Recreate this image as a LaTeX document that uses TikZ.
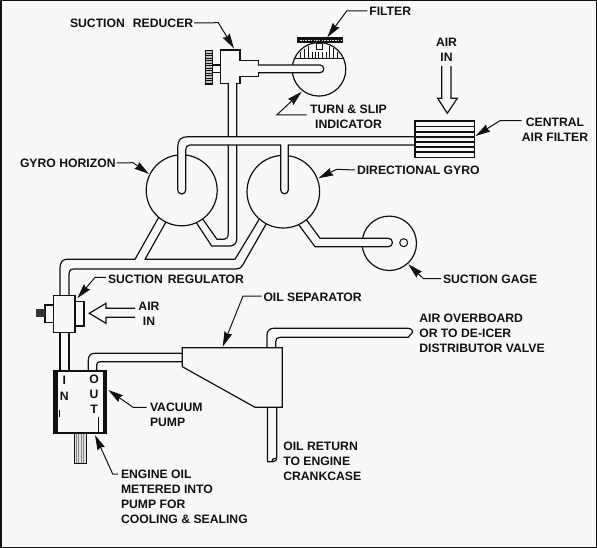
\documentclass[tikz,border=0pt]{standalone}
\usepackage{fontspec}
\setmainfont{Liberation Sans}
\usetikzlibrary{arrows.meta}
\definecolor{paper}{HTML}{F8F8F8}
\definecolor{ink}{HTML}{111111}
\tikzset{
  lbl/.style={inner sep=0pt,outer sep=0pt,text=ink,align=left,anchor=west,font=\fontsize{12.2}{15}\selectfont\bfseries},
  lblc/.style={lbl,align=center,anchor=center},
  tube/.style={draw=ink,fill=paper,line width=1.2pt,line join=round},
  wire/.style={draw=ink,line width=1.2pt,line join=round},
  dev/.style={draw=ink,fill=paper,line width=1.2pt,line join=miter},
  dial/.style={circle,draw=ink,fill=paper,line width=1.2pt,inner sep=0pt,outer sep=0pt},
  leader/.style={draw=ink,line width=1pt,-{Stealth[length=15pt,width=8pt,inset=1.5pt]}},
  hollow/.style={draw=ink,fill=paper,line width=1.2pt,line join=miter},
}
\begin{document}
\begin{tikzpicture}[x=1pt,y=-1pt]
\useasboundingbox (0,0) rectangle (597,548);
\fill[paper] (0,0) rectangle (597,548);
\fill[ink] (0,0) rectangle (597,1.5);
\fill[ink] (0,546.8) rectangle (597,548);
\fill[ink] (0,0) rectangle (1.5,548);
\fill[ink] (596,0) rectangle (597,548);

% tubes that end beneath devices
\path[tube] (228.3,80) -- (228.3,233) .. controls (228.3,238) and (226,239.3) .. (224,239.3) -- (217,239.3) -- (197,211)
  -- (190,213) -- (211.7,246) -- (230,246) .. controls (234,246) and (236.7,243) .. (236.7,239) -- (236.7,80);
\path[tube] (60,300) -- (60,268) .. controls (60,262) and (63,259.3) .. (67,259.3) -- (135,259.3) -- (164,208)
  -- (171,213) -- (145,259.3) -- (235,259.3) -- (266,208) -- (273,212) -- (243,264.5)
  .. controls (241,268) and (239,269) .. (236,269) -- (74,269) .. controls (70,269) and (69,271) .. (69,274) -- (69,300);
\node[dial,minimum size=54.4pt] (gage) at (389.3,243.3) {};
\path[tube] (300,211) -- (320,238.3) -- (388.3,238.3) arc[start angle=-90,end angle=90,radius=4.2] -- (315,246.7) -- (293,217);
\node[dial,minimum size=8pt,line width=1pt] (gagehole) at (403.7,242.7) {};
\node[dial,minimum size=71pt] (horizon) at (181.7,190.3) {};
\node[dial,minimum size=72.6pt] (dgyro) at (283.3,191.7) {};
\path[tube] (415,136.7) -- (188,136.7) .. controls (181,136.7) and (177.7,140) .. (177.7,147) -- (177.7,190)
  arc[start angle=180,end angle=0,radius=4] -- (185.7,150) .. controls (185.7,147) and (187,145) .. (190,145)
  -- (280.7,145) -- (280.7,190) arc[start angle=180,end angle=0,radius=3.8] -- (288.3,145) -- (415,145);
\path[tube] (88.3,372) -- (88.3,360) .. controls (88.3,355.5) and (91,353.3) .. (95,353.3) -- (184,353.3)
  -- (184,361.7) -- (100,361.7) .. controls (98,361.7) and (96.7,363) .. (96.7,365) -- (96.7,372);
\path[tube] (267,349) -- (267,335) .. controls (267,331) and (270,328.3) .. (273.3,328.3) -- (408.3,328.3)
  .. controls (411,328.3) and (413,330) .. (412.7,332) .. controls (412.5,334) and (410.5,333.5) .. (410,335) .. controls (409.8,336) and (409,337) .. (408.3,337.3)
  -- (280,337.3) .. controls (277,337.3) and (275.7,339) .. (275.7,341.7) -- (275.7,349);
\path[tube] (267.5,405) -- (267.5,461.7) -- (273,461.7) .. controls (276,461.7) and (276.7,460) .. (276.7,457) -- (276.7,405);
\path[wire] (273,461.7) .. controls (271,460) and (273,458) .. (276.7,458.5);
\path[wire] (60,330) -- (60,372) (69,330) -- (69,372);

% suction reducer
\path[dev] (212.7,65) rectangle (222,72.7);
\path[dev] (220.7,50) -- (240,50) -- (240,60.7) -- (258.7,60.7) -- (258.7,76.7) -- (240,76.7) -- (240,83.3) -- (220.7,83.3) -- cycle;
\fill[paper] (229,82) rectangle (236,85);
\path[dev,fill=gray!45] (205.7,50.5) rectangle (212.3,84.5);
\foreach \yy in {53,55.5,...,83} \draw[ink,line width=0.6pt] (205.7,\yy) -- (212.3,\yy);

% turn and slip indicator
\node[dial,minimum size=53.6pt] (turn) at (319,69.3) {};
\path[tube] (257.8,65) -- (320,65) arc[start angle=-90,end angle=90,radius=3.85] -- (257.8,72.7);
\draw[wire] (294.7,58.5) -- (343,58.5);
\foreach \xx/\yt in {300/52,304/49,308/46,312/52,315/52,318.5/52,322/52,326/52,329.5/46,333/48,337/52}
  \draw[ink,line width=0.9pt] (\xx,\yt) -- (\xx,58.5);
\path[dev,line width=1pt] (316.2,43.3) rectangle (322.8,49.3);
\node[inner sep=0pt,outer sep=0pt,fill=ink,minimum width=46.6pt,minimum height=6pt] (filterbar) at (320,40.3) {};
\draw[white!85!ink,line width=1.6pt,dash pattern=on 1.5pt off 1.2pt] (300,40.5) -- (341,40.5);

% central air filter
\path[dev] (415,121) rectangle (474.7,157.3);
\foreach \yy in {126.5,132,137,142,147,152} \draw[ink,line width=1.2pt] (415,\yy) -- (474.7,\yy);

% suction regulator
\path[dev] (75,301.7) rectangle (84,326);
\path[dev] (45,305) rectangle (53.3,322.3);
\fill[ink!85] (36,309.3) rectangle (45,317.3);
\path[dev] (53.3,295.7) rectangle (75,332.7);

% oil separator
\path[dev] (182.3,347.7) -- (282.3,347.7) -- (282.3,407.3) -- (255,407.3) -- (182.3,366.7) -- cycle;

% vacuum pump
\fill[gray!25] (74.3,433) rectangle (86,464);
\foreach \xx in {76,78.5,81,83.5} \draw[gray!90,line width=0.8pt] (\xx,433) -- (\xx,464);
\draw[ink,line width=0.8pt] (74.3,433) -- (74.3,463.6) -- (86,463.6) -- (86,433);
\path[dev,line width=1.6pt] (53.5,370.8) rectangle (106.5,432.7);
\fill[ink] (52.7,370) rectangle (57.5,433.5);
\fill[ink] (102.7,370) rectangle (107.3,433.5);
\draw[ink,line width=1pt] (59.3,410) -- (59.3,416.5);
\draw[ink,line width=1pt] (98,416.7) -- (98,431.7);
\node[lblc] (pin) at (64.2,380.7) {I};
\node[lblc] (pn) at (64.3,396.7) {N};
\node[lblc] (po) at (94,379.6) {O};
\node[lblc] (pu) at (94,394.3) {U};
\node[lblc] (pt) at (94,409) {T};

% hollow arrows
\path[hollow] (441.7,66) -- (441.7,98.3) -- (437.7,98.3) -- (447.3,113.3) -- (457.3,98.3) -- (451,98.3) -- (451,66);
\path[hollow] (135,308.3) -- (106,308.3) -- (106,303.3) -- (89.3,313.3) -- (106,323.3) -- (106,317.3) -- (135,317.3);

% labels
\node[lbl] (lreducer) at (70,23) {SUCTION\hspace{8pt}REDUCER};
\node[lbl] (lfilter) at (369.3,11) {FILTER};
\node[lblc] (lturn) at (348.5,117) {TURN \& SLIP\\INDICATOR};
\node[lblc] (lair1) at (446.5,50) {AIR\\IN};
\node[lblc] (lcaf) at (555,130) {CENTRAL\\AIR FILTER};
\node[lbl] (lhorizon) at (20,163) {GYRO HORIZON};
\node[lbl] (ldgyro) at (357,170) {DIRECTIONAL GYRO};
\node[lbl] (lgage) at (443,279.5) {SUCTION GAGE};
\node[lbl] (lreg) at (108,279) {SUCTION\hspace{5pt}REGULATOR};
\node[lblc] (lair2) at (149,313.5) {AIR\\IN};
\node[lbl] (lsep) at (263.5,297) {OIL SEPARATOR};
\node[lbl] (lover) at (419.3,333.3) {AIR OVERBOARD\\OR TO DE-ICER\\DISTRIBUTOR VALVE};
\node[lbl] (lvac) at (150,414.5) {VACUUM\\PUMP};
\node[lbl] (lret) at (283.3,461.7) {OIL RETURN\\TO ENGINE\\CRANKCASE};
\node[lbl] (leng) at (121,496.5) {ENGINE OIL\\METERED INTO\\PUMP FOR\\COOLING \& SEALING};

% leaders
\coordinate (tfilter) at (327.3,37.3);
\coordinate (treducer) at (234,48.5);
\coordinate (tturn) at (301.7,91.7);
\coordinate (tcaf) at (475.5,136);
\coordinate (thorizon) at (149,174);
\coordinate (tdgyro) at (318.3,178.3);
\coordinate (tgage) at (408.3,264.3);
\coordinate (treg) at (77.3,298.3);
\coordinate (tsep) at (222.7,346.7);
\coordinate (tvac) at (108.3,390);
\coordinate (teng) at (95,435);
\draw[leader] (lreducer.east) ++(1,0) -- (218.3,22.7) -- (treducer);
\draw[leader] (lfilter.west) ++(-2,0) -- (346.7,11) -- (tfilter);
\draw[leader] (306.7,115) -- (276.7,115) -- (tturn);
\draw[leader] (521.7,120.7) -- (500,120.7) -- (tcaf);
\draw[leader] (lhorizon.east) ++(1,0) -- (133,162.7) -- (thorizon);
\draw[leader] (ldgyro.west) ++(-2,0) -- (336.7,169.3) -- (tdgyro);
\draw[leader] (lgage.west) ++(-2,-1) -- (423.3,278.5) -- (tgage);
\draw[leader] (lreg.west) ++(-2,-1.5) -- (95,277.4) -- (treg);
\draw[leader] (lsep.west) ++(-2,-1) -- (243,296) -- (tsep);
\draw[leader] (146.7,407.3) -- (133,407.3) -- (tvac);
\draw[leader] (118,474) -- (112.7,474) -- (teng);
\end{tikzpicture}
\end{document}
